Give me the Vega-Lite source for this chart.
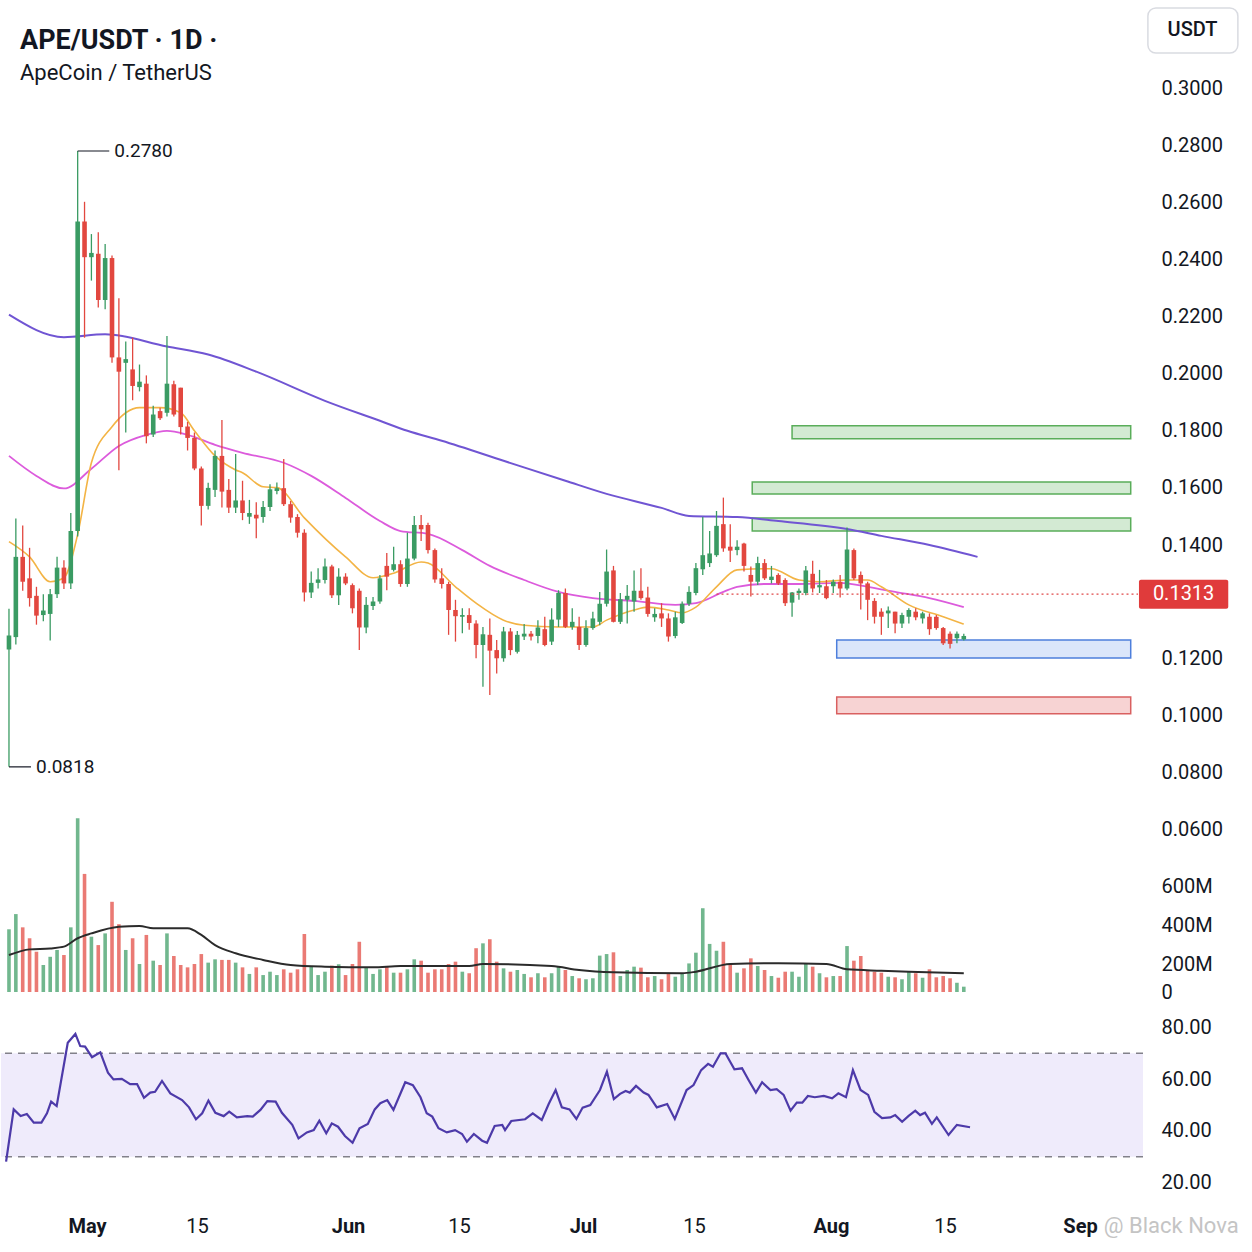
{
  "$schema": "https://vega.github.io/schema/vega-lite/v6.json",
  "background": "white",
  "padding": {"left": 0, "top": 0, "right": 0, "bottom": 0},
  "bounds": "flush",
  "spacing": 0,
  "title": {
    "text": "APE/USDT · 1D ·",
    "subtitle": "ApeCoin / TetherUS",
    "anchor": "start",
    "frame": "group",
    "orient": "top",
    "offset": -85,
    "dx": 19,
    "font": "Roboto",
    "fontSize": 27,
    "fontWeight": "bold",
    "color": "#131722",
    "subtitleFont": "Roboto",
    "subtitleFontSize": 22,
    "subtitleColor": "#131722",
    "subtitlePadding": 8
  },
  "config": {
    "view": {"stroke": null},
    "font": "Roboto",
    "axis": {
      "grid": false,
      "domain": false,
      "ticks": false,
      "labelColor": "#131722",
      "labelFont": "Roboto",
      "labelFontSize": 20,
      "labelFlush": false,
      "labelOverlap": false
    }
  },
  "resolve": {"scale": {"x": "independent", "y": "independent"}},
  "datasets": {
    "candles": [
      {"i":0,"o":0.1215,"h":0.1287,"l":0.0818,"c":0.1240,"v":378},
      {"i":1,"o":0.1237,"h":0.1493,"l":0.1224,"c":0.1379,"v":456},
      {"i":2,"o":0.1379,"h":0.1468,"l":0.1319,"c":0.1335,"v":388},
      {"i":3,"o":0.1341,"h":0.1395,"l":0.1291,"c":0.1306,"v":332},
      {"i":4,"o":0.1310,"h":0.1326,"l":0.1259,"c":0.1275,"v":263},
      {"i":5,"o":0.1276,"h":0.1313,"l":0.1265,"c":0.1284,"v":193},
      {"i":6,"o":0.1278,"h":0.1322,"l":0.1231,"c":0.1313,"v":237},
      {"i":7,"o":0.1313,"h":0.1379,"l":0.1306,"c":0.1360,"v":272},
      {"i":8,"o":0.1360,"h":0.1373,"l":0.1322,"c":0.1332,"v":246},
      {"i":9,"o":0.1332,"h":0.1512,"l":0.1322,"c":0.1449,"v":388},
      {"i":10,"o":0.1449,"h":0.2780,"l":0.1430,"c":0.2533,"v":947},
      {"i":11,"o":0.2533,"h":0.2602,"l":0.2126,"c":0.2408,"v":662},
      {"i":12,"o":0.2408,"h":0.2489,"l":0.2326,"c":0.2423,"v":340},
      {"i":13,"o":0.2420,"h":0.2495,"l":0.2232,"c":0.2258,"v":297},
      {"i":14,"o":0.2258,"h":0.2454,"l":0.2226,"c":0.2405,"v":357},
      {"i":15,"o":0.2405,"h":0.2414,"l":0.2038,"c":0.2057,"v":519},
      {"i":16,"o":0.2057,"h":0.2264,"l":0.1662,"c":0.2007,"v":404},
      {"i":17,"o":0.2038,"h":0.2113,"l":0.1794,"c":0.2051,"v":272},
      {"i":18,"o":0.2015,"h":0.2126,"l":0.1907,"c":0.1957,"v":332},
      {"i":19,"o":0.1953,"h":0.2032,"l":0.1938,"c":0.1972,"v":200},
      {"i":20,"o":0.1965,"h":0.1994,"l":0.1756,"c":0.1781,"v":349},
      {"i":21,"o":0.1787,"h":0.1888,"l":0.1778,"c":0.1857,"v":217},
      {"i":22,"o":0.1869,"h":0.1881,"l":0.1838,"c":0.1844,"v":193},
      {"i":23,"o":0.1863,"h":0.2132,"l":0.1850,"c":0.1965,"v":357},
      {"i":24,"o":0.1963,"h":0.1975,"l":0.1850,"c":0.1857,"v":241},
      {"i":25,"o":0.1951,"h":0.1951,"l":0.1787,"c":0.1813,"v":193},
      {"i":26,"o":0.1815,"h":0.1831,"l":0.1731,"c":0.1775,"v":176},
      {"i":27,"o":0.1775,"h":0.1794,"l":0.1662,"c":0.1668,"v":200},
      {"i":28,"o":0.1668,"h":0.1675,"l":0.1468,"c":0.1537,"v":251},
      {"i":29,"o":0.1537,"h":0.1618,"l":0.1524,"c":0.1600,"v":207},
      {"i":30,"o":0.1593,"h":0.1731,"l":0.1568,"c":0.1712,"v":224},
      {"i":31,"o":0.1712,"h":0.1838,"l":0.1531,"c":0.1587,"v":221},
      {"i":32,"o":0.1593,"h":0.1631,"l":0.1512,"c":0.1531,"v":221},
      {"i":33,"o":0.1531,"h":0.1719,"l":0.1512,"c":0.1556,"v":207},
      {"i":34,"o":0.1556,"h":0.1625,"l":0.1487,"c":0.1512,"v":176},
      {"i":35,"o":0.1499,"h":0.1558,"l":0.1474,"c":0.1512,"v":129},
      {"i":36,"o":0.1506,"h":0.1550,"l":0.1424,"c":0.1493,"v":176},
      {"i":37,"o":0.1498,"h":0.1554,"l":0.1478,"c":0.1533,"v":121},
      {"i":38,"o":0.1533,"h":0.1613,"l":0.1519,"c":0.1595,"v":145},
      {"i":39,"o":0.1589,"h":0.1619,"l":0.1578,"c":0.1599,"v":121},
      {"i":40,"o":0.1599,"h":0.1701,"l":0.1537,"c":0.1543,"v":162},
      {"i":41,"o":0.1543,"h":0.1554,"l":0.1478,"c":0.1496,"v":138},
      {"i":42,"o":0.1498,"h":0.1508,"l":0.1426,"c":0.1443,"v":162},
      {"i":43,"o":0.1443,"h":0.1455,"l":0.1300,"c":0.1316,"v":354},
      {"i":44,"o":0.1316,"h":0.1353,"l":0.1306,"c":0.1333,"v":181},
      {"i":45,"o":0.1333,"h":0.1359,"l":0.1323,"c":0.1339,"v":121},
      {"i":46,"o":0.1338,"h":0.1376,"l":0.1332,"c":0.1362,"v":145},
      {"i":47,"o":0.1362,"h":0.1365,"l":0.1306,"c":0.1311,"v":188},
      {"i":48,"o":0.1311,"h":0.1359,"l":0.1294,"c":0.1344,"v":198},
      {"i":49,"o":0.1344,"h":0.1350,"l":0.1329,"c":0.1332,"v":121},
      {"i":50,"o":0.1329,"h":0.1332,"l":0.1279,"c":0.1288,"v":200},
      {"i":51,"o":0.1319,"h":0.1323,"l":0.1214,"c":0.1254,"v":314},
      {"i":52,"o":0.1254,"h":0.1308,"l":0.1244,"c":0.1294,"v":176},
      {"i":53,"o":0.1292,"h":0.1308,"l":0.1285,"c":0.1300,"v":129},
      {"i":54,"o":0.1300,"h":0.1347,"l":0.1296,"c":0.1341,"v":162},
      {"i":55,"o":0.1363,"h":0.1386,"l":0.1320,"c":0.1344,"v":186},
      {"i":56,"o":0.1356,"h":0.1397,"l":0.1353,"c":0.1366,"v":138},
      {"i":57,"o":0.1366,"h":0.1373,"l":0.1326,"c":0.1331,"v":138},
      {"i":58,"o":0.1331,"h":0.1443,"l":0.1326,"c":0.1376,"v":162},
      {"i":59,"o":0.1376,"h":0.1502,"l":0.1373,"c":0.1470,"v":224},
      {"i":60,"o":0.1470,"h":0.1505,"l":0.1414,"c":0.1455,"v":217},
      {"i":61,"o":0.1470,"h":0.1478,"l":0.1385,"c":0.1391,"v":138},
      {"i":62,"o":0.1391,"h":0.1394,"l":0.1333,"c":0.1339,"v":162},
      {"i":63,"o":0.1341,"h":0.1359,"l":0.1323,"c":0.1331,"v":162},
      {"i":64,"o":0.1331,"h":0.1335,"l":0.1241,"c":0.1285,"v":200},
      {"i":65,"o":0.1285,"h":0.1303,"l":0.1229,"c":0.1274,"v":212},
      {"i":66,"o":0.1273,"h":0.1288,"l":0.1244,"c":0.1276,"v":145},
      {"i":67,"o":0.1276,"h":0.1288,"l":0.1250,"c":0.1262,"v":134},
      {"i":68,"o":0.1261,"h":0.1267,"l":0.1199,"c":0.1223,"v":281},
      {"i":69,"o":0.1223,"h":0.1255,"l":0.1099,"c":0.1242,"v":306},
      {"i":70,"o":0.1241,"h":0.1270,"l":0.1070,"c":0.1213,"v":327},
      {"i":71,"o":0.1214,"h":0.1232,"l":0.1146,"c":0.1199,"v":212},
      {"i":72,"o":0.1199,"h":0.1255,"l":0.1187,"c":0.1247,"v":169},
      {"i":73,"o":0.1247,"h":0.1253,"l":0.1205,"c":0.1214,"v":145},
      {"i":74,"o":0.1211,"h":0.1248,"l":0.1208,"c":0.1241,"v":157},
      {"i":75,"o":0.1238,"h":0.1260,"l":0.1232,"c":0.1243,"v":129},
      {"i":76,"o":0.1243,"h":0.1248,"l":0.1231,"c":0.1238,"v":105},
      {"i":77,"o":0.1239,"h":0.1267,"l":0.1226,"c":0.1254,"v":134},
      {"i":78,"o":0.1251,"h":0.1273,"l":0.1221,"c":0.1223,"v":105},
      {"i":79,"o":0.1229,"h":0.1288,"l":0.1223,"c":0.1268,"v":134},
      {"i":80,"o":0.1268,"h":0.1320,"l":0.1255,"c":0.1315,"v":181},
      {"i":81,"o":0.1315,"h":0.1323,"l":0.1253,"c":0.1255,"v":157},
      {"i":82,"o":0.1255,"h":0.1288,"l":0.1250,"c":0.1264,"v":114},
      {"i":83,"o":0.1255,"h":0.1273,"l":0.1214,"c":0.1223,"v":98},
      {"i":84,"o":0.1223,"h":0.1267,"l":0.1220,"c":0.1253,"v":91},
      {"i":85,"o":0.1253,"h":0.1282,"l":0.1250,"c":0.1270,"v":98},
      {"i":86,"o":0.1264,"h":0.1317,"l":0.1258,"c":0.1296,"v":243},
      {"i":87,"o":0.1296,"h":0.1392,"l":0.1291,"c":0.1353,"v":251},
      {"i":88,"o":0.1355,"h":0.1363,"l":0.1263,"c":0.1264,"v":260},
      {"i":89,"o":0.1264,"h":0.1315,"l":0.1260,"c":0.1304,"v":114},
      {"i":90,"o":0.1303,"h":0.1329,"l":0.1261,"c":0.1310,"v":157},
      {"i":91,"o":0.1300,"h":0.1355,"l":0.1282,"c":0.1319,"v":181},
      {"i":92,"o":0.1319,"h":0.1359,"l":0.1303,"c":0.1306,"v":174},
      {"i":93,"o":0.1307,"h":0.1326,"l":0.1273,"c":0.1278,"v":105},
      {"i":94,"o":0.1272,"h":0.1288,"l":0.1264,"c":0.1278,"v":114},
      {"i":95,"o":0.1279,"h":0.1297,"l":0.1255,"c":0.1270,"v":91},
      {"i":96,"o":0.1270,"h":0.1279,"l":0.1229,"c":0.1238,"v":134},
      {"i":97,"o":0.1239,"h":0.1282,"l":0.1235,"c":0.1272,"v":109},
      {"i":98,"o":0.1262,"h":0.1300,"l":0.1260,"c":0.1296,"v":134},
      {"i":99,"o":0.1296,"h":0.1327,"l":0.1292,"c":0.1317,"v":203},
      {"i":100,"o":0.1315,"h":0.1368,"l":0.1311,"c":0.1359,"v":258},
      {"i":101,"o":0.1357,"h":0.1498,"l":0.1347,"c":0.1382,"v":486},
      {"i":102,"o":0.1368,"h":0.1449,"l":0.1361,"c":0.1385,"v":303},
      {"i":103,"o":0.1382,"h":0.1519,"l":0.1379,"c":0.1467,"v":268},
      {"i":104,"o":0.1473,"h":0.1566,"l":0.1388,"c":0.1394,"v":314},
      {"i":105,"o":0.1397,"h":0.1473,"l":0.1370,"c":0.1390,"v":200},
      {"i":106,"o":0.1391,"h":0.1417,"l":0.1382,"c":0.1397,"v":138},
      {"i":107,"o":0.1405,"h":0.1408,"l":0.1353,"c":0.1363,"v":169},
      {"i":108,"o":0.1347,"h":0.1362,"l":0.1309,"c":0.1335,"v":229},
      {"i":109,"o":0.1335,"h":0.1379,"l":0.1329,"c":0.1368,"v":186},
      {"i":110,"o":0.1368,"h":0.1375,"l":0.1338,"c":0.1341,"v":157},
      {"i":111,"o":0.1338,"h":0.1363,"l":0.1332,"c":0.1344,"v":114},
      {"i":112,"o":0.1347,"h":0.1350,"l":0.1329,"c":0.1332,"v":102},
      {"i":113,"o":0.1338,"h":0.1341,"l":0.1292,"c":0.1297,"v":145},
      {"i":114,"o":0.1298,"h":0.1317,"l":0.1273,"c":0.1316,"v":145},
      {"i":115,"o":0.1315,"h":0.1323,"l":0.1303,"c":0.1319,"v":109},
      {"i":116,"o":0.1315,"h":0.1363,"l":0.1311,"c":0.1355,"v":200},
      {"i":117,"o":0.1349,"h":0.1372,"l":0.1316,"c":0.1323,"v":181},
      {"i":118,"o":0.1325,"h":0.1356,"l":0.1315,"c":0.1329,"v":134},
      {"i":119,"o":0.1327,"h":0.1338,"l":0.1304,"c":0.1306,"v":105},
      {"i":120,"o":0.1327,"h":0.1339,"l":0.1315,"c":0.1335,"v":114},
      {"i":121,"o":0.1335,"h":0.1347,"l":0.1307,"c":0.1323,"v":114},
      {"i":122,"o":0.1323,"h":0.1461,"l":0.1320,"c":0.1392,"v":292},
      {"i":123,"o":0.1391,"h":0.1394,"l":0.1338,"c":0.1341,"v":217},
      {"i":124,"o":0.1347,"h":0.1353,"l":0.1286,"c":0.1332,"v":241},
      {"i":125,"o":0.1332,"h":0.1335,"l":0.1267,"c":0.1303,"v":150},
      {"i":126,"o":0.1301,"h":0.1306,"l":0.1261,"c":0.1273,"v":145},
      {"i":127,"o":0.1282,"h":0.1288,"l":0.1241,"c":0.1273,"v":138},
      {"i":128,"o":0.1279,"h":0.1291,"l":0.1253,"c":0.1284,"v":109},
      {"i":129,"o":0.1282,"h":0.1282,"l":0.1244,"c":0.1261,"v":105},
      {"i":130,"o":0.1261,"h":0.1280,"l":0.1253,"c":0.1276,"v":91},
      {"i":131,"o":0.1273,"h":0.1288,"l":0.1261,"c":0.1285,"v":150},
      {"i":132,"o":0.1282,"h":0.1288,"l":0.1267,"c":0.1272,"v":134},
      {"i":133,"o":0.1270,"h":0.1282,"l":0.1261,"c":0.1279,"v":102},
      {"i":134,"o":0.1273,"h":0.1279,"l":0.1241,"c":0.1251,"v":162},
      {"i":135,"o":0.1273,"h":0.1276,"l":0.1250,"c":0.1253,"v":105},
      {"i":136,"o":0.1253,"h":0.1255,"l":0.1223,"c":0.1226,"v":114},
      {"i":137,"o":0.1243,"h":0.1247,"l":0.1217,"c":0.1225,"v":98},
      {"i":138,"o":0.1235,"h":0.1247,"l":0.1226,"c":0.1243,"v":66},
      {"i":139,"o":0.1233,"h":0.1243,"l":0.1231,"c":0.1239,"v":38}
    ],
    "ma200": [
      {"i":0,"p":0.2207},{"i":8,"p":0.2128},{"i":14,"p":0.2138},{"i":23,"p":0.2095},
      {"i":29,"p":0.2067},{"i":36,"p":0.2007},{"i":46,"p":0.1905},{"i":54,"p":0.1835},
      {"i":58,"p":0.1800},{"i":63,"p":0.1765},{"i":72,"p":0.1695},{"i":81,"p":0.1625},
      {"i":87,"p":0.1579},{"i":95,"p":0.1530},{"i":99,"p":0.1502},{"i":106,"p":0.1498},
      {"i":112,"p":0.1484},{"i":122,"p":0.1456},{"i":127,"p":0.1432},{"i":134,"p":0.1400},
      {"i":141,"p":0.1379}
    ],
    "ma50": [
      {"i":0,"p":0.1712},{"i":4,"p":0.1642},{"i":8,"p":0.1598},{"i":12,"p":0.1667},
      {"i":16,"p":0.1747},{"i":20,"p":0.1786},{"i":23,"p":0.1800},{"i":26,"p":0.1786},
      {"i":30,"p":0.1751},{"i":34,"p":0.1723},{"i":40,"p":0.1688},{"i":44,"p":0.1642},
      {"i":49,"p":0.1565},{"i":54,"p":0.1484},{"i":57,"p":0.1449},{"i":61,"p":0.1439},
      {"i":66,"p":0.1391},{"i":70,"p":0.1363},{"i":75,"p":0.1338},{"i":80,"p":0.1317},
      {"i":85,"p":0.1306},{"i":91,"p":0.1301},{"i":97,"p":0.1294},{"i":100,"p":0.1297},
      {"i":104,"p":0.1317},{"i":106,"p":0.1326},{"i":110,"p":0.1331},{"i":115,"p":0.1331},
      {"i":121,"p":0.1333},{"i":125,"p":0.1326},{"i":129,"p":0.1317},{"i":134,"p":0.1306},
      {"i":139,"p":0.1290}
    ],
    "ema": [
      {"i":0,"p":0.1412},{"i":3,"p":0.1379},{"i":6,"p":0.1335},{"i":8,"p":0.1342},
      {"i":10,"p":0.1437},{"i":12,"p":0.1688},{"i":15,"p":0.1814},{"i":19,"p":0.1881},
      {"i":22,"p":0.1881},{"i":25,"p":0.1863},{"i":27,"p":0.1800},{"i":30,"p":0.1712},
      {"i":33,"p":0.1663},{"i":34,"p":0.1653},{"i":37,"p":0.1604},{"i":39,"p":0.1601},
      {"i":43,"p":0.1495},{"i":49,"p":0.1379},{"i":53,"p":0.1342},{"i":56,"p":0.1350},
      {"i":60,"p":0.1370},{"i":61,"p":0.1368},{"i":65,"p":0.1326},{"i":68,"p":0.1297},
      {"i":72,"p":0.1267},{"i":75,"p":0.1258},{"i":80,"p":0.1255},{"i":85,"p":0.1255},
      {"i":87,"p":0.1267},{"i":91,"p":0.1285},{"i":93,"p":0.1290},{"i":96,"p":0.1285},
      {"i":98,"p":0.1280},{"i":100,"p":0.1290},{"i":103,"p":0.1326},{"i":106,"p":0.1356},
      {"i":111,"p":0.1358},{"i":115,"p":0.1338},{"i":118,"p":0.1335},{"i":122,"p":0.1338},
      {"i":125,"p":0.1338},{"i":127,"p":0.1326},{"i":131,"p":0.1294},{"i":136,"p":0.1273},
      {"i":139,"p":0.1260}
    ],
    "vma": [
      {"i":0,"v":246},{"i":3,"v":275},{"i":6,"v":280},{"i":8,"v":289},{"i":10,"v":332},
      {"i":12,"v":357},{"i":16,"v":391},{"i":19,"v":395},{"i":21,"v":383},{"i":26,"v":383},
      {"i":28,"v":349},{"i":30,"v":297},{"i":33,"v":255},{"i":37,"v":221},{"i":41,"v":193},
      {"i":46,"v":181},{"i":53,"v":176},{"i":57,"v":186},{"i":62,"v":186},{"i":67,"v":186},
      {"i":69,"v":200},{"i":79,"v":186},{"i":83,"v":157},{"i":88,"v":141},{"i":98,"v":134},
      {"i":100,"v":145},{"i":105,"v":200},{"i":112,"v":204},{"i":119,"v":200},{"i":122,"v":162},
      {"i":127,"v":152},{"i":131,"v":145},{"i":139,"v":134}
    ],
    "rsi": [
      {"i":0.3,"r":28.1},{"i":1.4,"r":48.3},{"i":2.4,"r":45.7},{"i":3.3,"r":46.5},{"i":4.3,"r":43.2},
      {"i":5.4,"r":43.2},{"i":6.2,"r":46.8},{"i":6.8,"r":51.3},{"i":7.6,"r":49.6},{"i":9.2,"r":74.1},
      {"i":10.3,"r":77.5},{"i":11.0,"r":72.8},{"i":11.7,"r":72.6},{"i":12.7,"r":68.5},{"i":13.9,"r":70.4},
      {"i":15.0,"r":62.5},{"i":15.8,"r":59.9},{"i":17.0,"r":60.1},{"i":18.2,"r":58.1},{"i":19.2,"r":58.1},
      {"i":20.2,"r":52.8},{"i":21.1,"r":54.8},{"i":21.8,"r":55.1},{"i":22.8,"r":59.3},{"i":24.0,"r":54.5},
      {"i":25.7,"r":51.9},{"i":26.7,"r":49.1},{"i":27.7,"r":44.5},{"i":28.6,"r":46.8},{"i":29.5,"r":51.7},
      {"i":30.5,"r":47.0},{"i":31.7,"r":45.7},{"i":32.5,"r":47.4},{"i":33.6,"r":45.2},{"i":35.1,"r":45.7},
      {"i":35.9,"r":45.5},{"i":37.0,"r":48.1},{"i":38.0,"r":51.5},{"i":39.2,"r":51.3},{"i":40.1,"r":47.0},
      {"i":41.6,"r":42.3},{"i":42.5,"r":37.1},{"i":43.7,"r":39.4},{"i":44.7,"r":40.3},{"i":45.5,"r":43.9},
      {"i":46.5,"r":39.1},{"i":47.3,"r":42.9},{"i":48.2,"r":41.6},{"i":49.2,"r":38.0},{"i":50.3,"r":35.4},
      {"i":51.3,"r":41.0},{"i":52.5,"r":42.7},{"i":53.5,"r":48.3},{"i":54.3,"r":50.7},{"i":55.3,"r":51.9},
      {"i":56.2,"r":48.1},{"i":57.9,"r":58.8},{"i":59.0,"r":57.7},{"i":60.1,"r":53.0},{"i":61.0,"r":46.8},
      {"i":61.8,"r":45.5},{"i":62.7,"r":41.0},{"i":63.9,"r":39.4},{"i":65.1,"r":40.3},{"i":66.1,"r":38.8},
      {"i":66.8,"r":35.8},{"i":67.8,"r":38.8},{"i":69.0,"r":36.2},{"i":69.7,"r":35.4},{"i":70.8,"r":41.9},
      {"i":71.9,"r":42.3},{"i":72.3,"r":40.3},{"i":73.2,"r":43.8},{"i":75.2,"r":44.5},{"i":76.3,"r":46.8},
      {"i":77.6,"r":44.2},{"i":78.6,"r":50.4},{"i":79.6,"r":55.8},{"i":80.5,"r":49.1},{"i":81.6,"r":48.3},
      {"i":82.6,"r":44.6},{"i":83.5,"r":49.0},{"i":84.6,"r":50.0},{"i":86.0,"r":55.8},{"i":87.0,"r":62.9},
      {"i":88.0,"r":52.3},{"i":88.9,"r":54.3},{"i":89.7,"r":55.4},{"i":90.3,"r":54.8},{"i":91.2,"r":57.4},
      {"i":92.3,"r":54.8},{"i":93.0,"r":53.9},{"i":94.2,"r":49.1},{"i":95.7,"r":50.4},{"i":96.8,"r":44.6},
      {"i":98.5,"r":55.8},{"i":99.5,"r":57.7},{"i":100.6,"r":63.5},{"i":101.6,"r":65.9},{"i":102.3,"r":64.8},
      {"i":103.4,"r":70.0},{"i":104.1,"r":70.0},{"i":105.4,"r":63.8},{"i":106.5,"r":64.2},{"i":107.5,"r":59.4},
      {"i":108.5,"r":54.8},{"i":109.4,"r":58.8},{"i":110.6,"r":55.8},{"i":111.5,"r":56.1},{"i":112.5,"r":53.9},
      {"i":113.5,"r":47.8},{"i":114.4,"r":50.9},{"i":115.2,"r":50.9},{"i":116.0,"r":53.5},{"i":117.0,"r":53.0},
      {"i":118.3,"r":53.5},{"i":119.5,"r":52.6},{"i":120.4,"r":54.5},{"i":121.5,"r":53.0},{"i":122.5,"r":63.5},
      {"i":123.6,"r":55.8},{"i":124.7,"r":53.9},{"i":125.6,"r":47.4},{"i":126.7,"r":44.9},{"i":127.9,"r":45.2},
      {"i":128.6,"r":46.1},{"i":129.6,"r":43.5},{"i":130.5,"r":45.7},{"i":131.5,"r":47.8},{"i":132.2,"r":46.1},
      {"i":132.9,"r":47.0},{"i":133.9,"r":42.7},{"i":134.6,"r":45.2},{"i":136.3,"r":38.4},{"i":137.5,"r":42.3},
      {"i":139.4,"r":41.4}
    ],
    "zones": [
      {"kind":"target","i1":114.0,"i2":163.3,"p1":0.1818,"p2":0.1772},
      {"kind":"target","i1":108.2,"i2":163.3,"p1":0.1621,"p2":0.1579},
      {"kind":"target","i1":108.2,"i2":163.3,"p1":0.1495,"p2":0.1449},
      {"kind":"entry","i1":120.5,"i2":163.3,"p1":0.1232,"p2":0.1200},
      {"kind":"stop","i1":120.5,"i2":163.3,"p1":0.1063,"p2":0.1004}
    ],
    "extremes": [
      {"i":10,"i2":14.6,"p":0.2780},
      {"i":0,"i2":3.2,"p":0.0818}
    ],
    "last": [{"i":103,"p":0.1313}],
    "bands": [{"r":70},{"r":30}]
  },
  "vconcat": [
    {
      "width": 1142,
      "height": 866,
      "encoding": {
        "x": {"field": "i", "type": "quantitative", "title": null, "axis": null,
              "scale": {"domain": [-0.433, 164.36], "nice": false, "zero": false}}
      },
      "layer": [
        {
          "data": {"name": "zones"},
          "mark": {"type": "rect", "strokeWidth": 1.5},
          "encoding": {
            "x": {"field": "i1", "type": "quantitative", "title": null, "axis": null,
                  "scale": {"domain": [-0.433, 164.36], "nice": false, "zero": false}},
            "x2": {"field": "i2"},
            "y": {"field": "p1", "type": "quantitative", "title": null,
                  "scale": {"domain": [0.047018, 0.12, 0.14, 0.330877], "range": [866, 658, 545, 0], "nice": false, "zero": false}},
            "y2": {"field": "p2"},
            "fill": {"field": "kind", "type": "nominal", "legend": null,
                     "scale": {"domain": ["target", "entry", "stop"], "range": ["#d3ead3", "#dbe6fa", "#f7d3d3"]}},
            "stroke": {"field": "kind", "type": "nominal", "legend": null,
                       "scale": {"domain": ["target", "entry", "stop"], "range": ["#5aad5a", "#4d7fdc", "#d96060"]}}
          }
        },
        {
          "data": {"name": "ma200"},
          "mark": {"type": "line", "color": "#7055d3", "strokeWidth": 2, "interpolate": "monotone"},
          "encoding": {
            "y": {"field": "p", "type": "quantitative", "title": null,
                  "scale": {"domain": [0.047018, 0.12, 0.14, 0.330877], "range": [866, 658, 545, 0], "nice": false, "zero": false}}
          }
        },
        {
          "data": {"name": "ma50"},
          "mark": {"type": "line", "color": "#dc5bdc", "strokeWidth": 1.8, "interpolate": "monotone"},
          "encoding": {
            "y": {"field": "p", "type": "quantitative", "title": null,
                  "scale": {"domain": [0.047018, 0.12, 0.14, 0.330877], "range": [866, 658, 545, 0], "nice": false, "zero": false}}
          }
        },
        {
          "data": {"name": "ema"},
          "mark": {"type": "line", "color": "#f3b445", "strokeWidth": 1.6, "interpolate": "monotone"},
          "encoding": {
            "y": {"field": "p", "type": "quantitative", "title": null,
                  "scale": {"domain": [0.047018, 0.12, 0.14, 0.330877], "range": [866, 658, 545, 0], "nice": false, "zero": false}}
          }
        },
        {
          "data": {"name": "candles"},
          "mark": {"type": "rule", "strokeWidth": 1.3},
          "encoding": {
            "y": {"field": "l", "type": "quantitative", "title": null,
                  "scale": {"domain": [0.047018, 0.12, 0.14, 0.330877], "range": [866, 658, 545, 0], "nice": false, "zero": false},
                  "axis": {"orient": "right", "values": [0.06, 0.08, 0.1, 0.12, 0.14, 0.16, 0.18, 0.2, 0.22, 0.24, 0.26, 0.28, 0.3],
                           "format": ".4f", "labelPadding": 18, "labelAlign": "left"}},
            "y2": {"field": "h"},
            "color": {"condition": {"test": "datum.c >= datum.o", "value": "#3a9b63"}, "value": "#e2473f"}
          }
        },
        {
          "data": {"name": "candles"},
          "mark": {"type": "bar", "size": 4.6},
          "encoding": {
            "y": {"field": "o", "type": "quantitative", "title": null,
                  "scale": {"domain": [0.047018, 0.12, 0.14, 0.330877], "range": [866, 658, 545, 0], "nice": false, "zero": false}},
            "y2": {"field": "c"},
            "color": {"condition": {"test": "datum.c >= datum.o", "value": "#3a9b63"}, "value": "#e2473f"}
          }
        },
        {
          "data": {"name": "last"},
          "mark": {"type": "rule", "color": "#e04848", "strokeWidth": 1.3, "strokeDash": [2, 3]},
          "encoding": {
            "x2": {"datum": 164.36},
            "y": {"field": "p", "type": "quantitative", "title": null,
                  "scale": {"domain": [0.047018, 0.12, 0.14, 0.330877], "range": [866, 658, 545, 0], "nice": false, "zero": false}}
          }
        },
        {
          "data": {"name": "extremes"},
          "mark": {"type": "rule", "color": "#131722", "strokeWidth": 1.2},
          "encoding": {
            "x2": {"field": "i2"},
            "y": {"field": "p", "type": "quantitative", "title": null,
                  "scale": {"domain": [0.047018, 0.12, 0.14, 0.330877], "range": [866, 658, 545, 0], "nice": false, "zero": false}}
          }
        },
        {
          "data": {"name": "extremes"},
          "mark": {"type": "text", "align": "left", "baseline": "middle", "dx": 5, "fontSize": 19, "color": "#131722"},
          "encoding": {
            "x": {"field": "i2", "type": "quantitative", "title": null, "axis": null,
                  "scale": {"domain": [-0.433, 164.36], "nice": false, "zero": false}},
            "y": {"field": "p", "type": "quantitative", "title": null,
                  "scale": {"domain": [0.047018, 0.12, 0.14, 0.330877], "range": [866, 658, 545, 0], "nice": false, "zero": false}},
            "text": {"field": "p", "type": "quantitative", "format": ".4f"}
          }
        },
        {
          "data": {"name": "last"},
          "mark": {"type": "rect", "fill": "#e03b3b", "cornerRadius": 2},
          "encoding": {
            "x": {"datum": 164.5, "type": "quantitative", "axis": null,
                  "scale": {"domain": [-0.433, 164.36], "nice": false, "zero": false}},
            "x2": {"datum": 177.5},
            "y": {"datum": 0.13387, "type": "quantitative",
                  "scale": {"domain": [0.047018, 0.12, 0.14, 0.330877], "range": [866, 658, 545, 0], "nice": false, "zero": false}},
            "y2": {"datum": 0.12873}
          }
        },
        {
          "data": {"name": "last"},
          "mark": {"type": "text", "color": "white", "fontSize": 20, "align": "center", "baseline": "middle"},
          "encoding": {
            "x": {"datum": 171, "type": "quantitative", "axis": null,
                  "scale": {"domain": [-0.433, 164.36], "nice": false, "zero": false}},
            "y": {"field": "p", "type": "quantitative", "title": null,
                  "scale": {"domain": [0.047018, 0.12, 0.14, 0.330877], "range": [866, 658, 545, 0], "nice": false, "zero": false}},
            "text": {"field": "p", "type": "quantitative", "format": ".4f"}
          }
        },
        {
          "data": {"name": "last"},
          "mark": {"type": "rect", "fill": "white", "stroke": "#d9dbe1", "strokeWidth": 1.5, "cornerRadius": 8},
          "encoding": {
            "x": {"datum": 165.8, "type": "quantitative", "axis": null,
                  "scale": {"domain": [-0.433, 164.36], "nice": false, "zero": false}},
            "x2": {"datum": 178.9},
            "y": {"datum": 0.3281, "type": "quantitative",
                  "scale": {"domain": [0.047018, 0.12, 0.14, 0.330877], "range": [866, 658, 545, 0], "nice": false, "zero": false}},
            "y2": {"datum": 0.3123}
          }
        },
        {
          "data": {"name": "last"},
          "mark": {"type": "text", "text": "USDT", "color": "#131722", "fontSize": 20, "fontWeight": 500, "align": "center", "baseline": "middle"},
          "encoding": {
            "x": {"datum": 172.3, "type": "quantitative", "axis": null,
                  "scale": {"domain": [-0.433, 164.36], "nice": false, "zero": false}},
            "y": {"datum": 0.3202, "type": "quantitative",
                  "scale": {"domain": [0.047018, 0.12, 0.14, 0.330877], "range": [866, 658, 545, 0], "nice": false, "zero": false}}
          }
        }
      ]
    },
    {
      "width": 1142,
      "height": 130,
      "encoding": {
        "x": {"field": "i", "type": "quantitative", "title": null, "axis": null,
              "scale": {"domain": [-0.433, 164.36], "nice": false, "zero": false}}
      },
      "layer": [
        {
          "data": {"name": "candles"},
          "mark": {"type": "bar", "size": 3.6, "opacity": 0.72},
          "encoding": {
            "y": {"field": "v", "type": "quantitative", "title": null, "stack": null,
                  "scale": {"domain": [-28.571, 200, 702.564], "range": [130, 98, 0], "nice": false, "zero": false},
                  "axis": {"orient": "right", "values": [0, 200, 400, 600],
                           "labelExpr": "datum.value == 0 ? '0' : datum.value + 'M'",
                           "labelPadding": 18, "labelAlign": "left"}},
            "y2": {"datum": 0},
            "color": {"condition": {"test": "datum.c >= datum.o", "value": "#3a9b63"}, "value": "#e2473f"}
          }
        },
        {
          "data": {"name": "vma"},
          "mark": {"type": "line", "color": "#2b2b2b", "strokeWidth": 2, "interpolate": "monotone"},
          "encoding": {
            "y": {"field": "v", "type": "quantitative", "title": null,
                  "scale": {"domain": [-28.571, 200, 702.564], "range": [130, 98, 0], "nice": false, "zero": false}}
          }
        }
      ]
    },
    {
      "width": 1142,
      "height": 204,
      "layer": [
        {
          "data": {"name": "last"},
          "mark": {"type": "rect", "fill": "#efebfb"},
          "encoding": {
            "x": {"datum": -0.433, "type": "quantitative",
                  "scale": {"domain": [-0.433, 164.36], "nice": false, "zero": false}},
            "x2": {"datum": 164.36},
            "y": {"datum": 70, "type": "quantitative",
                  "scale": {"domain": [13.25, 92.17], "nice": false, "zero": false}},
            "y2": {"datum": 30}
          }
        },
        {
          "data": {"name": "bands"},
          "mark": {"type": "rule", "color": "#82818a", "strokeWidth": 1.5, "strokeDash": [7, 6]},
          "encoding": {
            "y": {"field": "r", "type": "quantitative", "title": null,
                  "scale": {"domain": [13.25, 92.17], "nice": false, "zero": false}}
          }
        },
        {
          "data": {"name": "rsi"},
          "mark": {"type": "line", "color": "#4d3aa9", "strokeWidth": 2.2},
          "encoding": {
            "x": {"field": "i", "type": "quantitative", "title": null,
                  "scale": {"domain": [-0.433, 164.36], "nice": false, "zero": false},
                  "axis": {"orient": "bottom", "values": [11.98, 27.85, 49.64, 65.66, 83.55, 99.57, 119.34, 135.79, 155.27],
                           "labelExpr": "datum.value < 20 ? 'May' : datum.value < 40 ? '15' : datum.value < 58 ? 'Jun' : datum.value < 75 ? '15' : datum.value < 90 ? 'Jul' : datum.value < 110 ? '15' : datum.value < 127 ? 'Aug' : datum.value < 145 ? '15' : 'Sep'",
                           "labelFont": "Liberation Sans Narrow, Roboto",
                           "labelFontWeight": {"condition": {"test": "datum.value < 20 || (datum.value > 40 && datum.value < 58) || (datum.value > 75 && datum.value < 90) || (datum.value > 110 && datum.value < 127) || datum.value > 145", "value": "bold"}, "value": "normal"},
                           "labelPadding": 16}},
            "y": {"field": "r", "type": "quantitative", "title": null,
                  "scale": {"domain": [13.25, 92.17], "nice": false, "zero": false},
                  "axis": {"orient": "right", "values": [20, 40, 60, 80], "format": ".2f",
                           "labelPadding": 18, "labelAlign": "left"}}
          }
        },
        {
          "data": {"name": "last"},
          "mark": {"type": "text", "text": "@ Black Nova", "color": "#c4c4c4", "fontSize": 22, "align": "left", "baseline": "middle"},
          "encoding": {
            "x": {"datum": 158.7, "type": "quantitative",
                  "scale": {"domain": [-0.433, 164.36], "nice": false, "zero": false}},
            "y": {"datum": 3, "type": "quantitative",
                  "scale": {"domain": [13.25, 92.17], "nice": false, "zero": false}}
          }
        }
      ]
    }
  ]
}
